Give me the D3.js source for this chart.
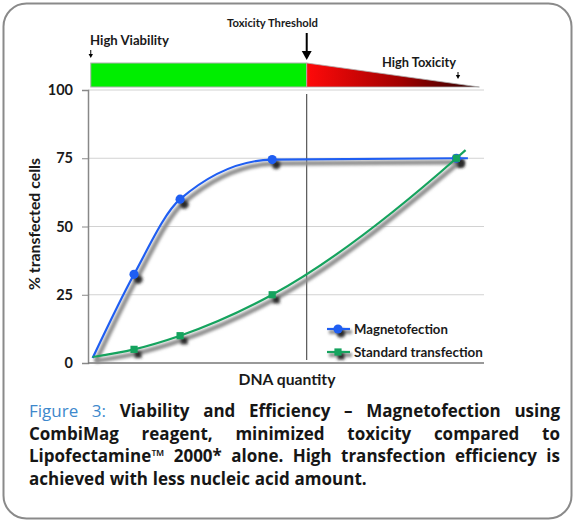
<!DOCTYPE html>
<html><head><meta charset="utf-8">
<script src="https://cdn.jsdelivr.net/npm/d3@7"></script>
<style>body{margin:0;background:#fff}svg{display:block}</style>
</head><body>
<script>
// ---- data ----
const dnaX = [0.1, 1, 2, 4, 8, 8.25];
const magnetofection = [1.8, 32.5, 60, 74.5, 75, 75];
const standardX = [0.1, 1, 2, 4, 8, 8.2];
const standard = [2.2, 5, 10, 25, 75, 78];
const markerIdx = [1, 2, 3, 4];
const yTicks = [0, 25, 50, 75, 100];
const thresholdX = 4.75;
const viabilityStart = 0.06;
const toxicityEnd = 8.5;
const seriesNames = ["Magnetofection", "Standard transfection"];
const captionLines = [
  [{t:"Figure 3:", c:"fig"}, {t:"Viability and Efficiency – Magnetofection using"}],
  [{t:"CombiMag reagent, minimized toxicity compared to"}],
  [{t:"Lipofectamine™ 2000* alone. High transfection efficiency is"}],
  [{t:"achieved with less nucleic acid amount."}]
];

const W = 575, H = 523;
const svg = d3.select("body").append("svg").attr("width", W).attr("height", H);
const defs = svg.append("defs");
defs.append("filter").attr("id","blur").attr("x","-20%").attr("y","-20%").attr("width","140%").attr("height","140%")
  .append("feGaussianBlur").attr("stdDeviation", 1.4);
const grad = defs.append("linearGradient").attr("id","tox").attr("x1","0").attr("x2","1").attr("y1","0").attr("y2","0");
grad.append("stop").attr("offset","0%").attr("stop-color","#ff0a0a");
grad.append("stop").attr("offset","55%").attr("stop-color","#a00000");
grad.append("stop").attr("offset","100%").attr("stop-color","#2a0000");

// frame
svg.append("rect").attr("x",3.5).attr("y",3.5).attr("width",568).attr("height",515)
  .attr("rx",23).attr("fill","#fff").attr("stroke","#8a8a8a").attr("stroke-width",2);

const x = d3.scaleLinear().domain([0, 8.6]).range([88, 484]);
const y = d3.scaleLinear().domain([0, 100]).range([363, 90]);
const F = "Lato, 'Open Sans', sans-serif";

// gridlines
svg.append("g").selectAll("line").data(yTicks.filter(d=>d>0)).join("line")
  .attr("x1", x(0)).attr("x2", x(8.6)).attr("y1", d=>y(d)).attr("y2", d=>y(d))
  .attr("stroke","#d2d2d2").attr("stroke-width",1);

// y axis
const yAxis = svg.append("g").attr("transform",`translate(${x(0)},0)`)
  .call(d3.axisLeft(y).tickValues(yTicks).tickSize(6).tickPadding(9));
yAxis.select(".domain").attr("stroke","#888").attr("stroke-width",1.5);
yAxis.selectAll(".tick line").attr("stroke","#888");
yAxis.selectAll("text").attr("font-family",F).attr("font-weight",700).attr("font-size",14.5).attr("fill","#1a1a1a");

// x axis line
svg.append("line").attr("x1",x(0)).attr("x2",x(8.6)).attr("y1",y(0)).attr("y2",y(0))
  .attr("stroke","#777").attr("stroke-width",1.5);

// threshold line
svg.append("line").attr("x1",x(thresholdX)).attr("x2",x(thresholdX)).attr("y1",y(100)+4).attr("y2",y(0)-3)
  .attr("stroke","#333").attr("stroke-width",1);

// toxicity bar
const barTop = y(100) - 27, barBot = y(100) - 3;
svg.append("rect").attr("x",x(viabilityStart)).attr("y",barTop)
  .attr("width",x(thresholdX)-x(viabilityStart)).attr("height",barBot-barTop)
  .attr("fill","#00ee00").attr("stroke","#b0b0b0").attr("stroke-width",1);
svg.append("path").attr("d",`M${x(thresholdX)},${barTop}L${x(thresholdX)},${barBot}L${x(toxicityEnd)},${barBot}Z`)
  .attr("fill","url(#tox)").attr("stroke","#b0b0b0").attr("stroke-width",0.8);

// arrows
function arrow(cx, y1, y2, w, head) {
  svg.append("line").attr("x1",cx).attr("x2",cx).attr("y1",y1).attr("y2",y2-head*0.6)
    .attr("stroke","#000").attr("stroke-width",w);
  svg.append("path").attr("d",`M${cx-head*0.55},${y2-head}L${cx},${y2}L${cx+head*0.55},${y2-head}Z`).attr("fill","#000");
}
arrow(x(thresholdX), 33, 60, 2, 9);
arrow(x(viabilityStart), 50, 58, 1, 4);
arrow(458, 72, 79, 1, 4);

// top labels
function label(t, xx, yy, size, anchor, fitW) {
  const el = svg.append("text").attr("x",xx).attr("y",yy).text(t).attr("font-family",F).attr("font-weight",700)
    .attr("font-size",size).attr("fill","#1a1a1a").attr("text-anchor",anchor||"start");
  if (fitW) { const w = el.node().getComputedTextLength(); el.attr("font-size", size * fitW / w); }
  return el;
}
label("Toxicity Threshold", 272.5, 27, 12, "middle", 91);
label("High Viability", 90, 45, 13, "start", 79);
label("High Toxicity", 419, 67, 13, "middle", 74);

// titles
const yt = svg.append("text").attr("transform","translate(40,224) rotate(-90)").attr("text-anchor","middle")
  .text("% transfected cells").attr("font-family",F).attr("font-weight",700).attr("font-size",14).attr("fill","#1a1a1a");
{ const w = yt.node().getComputedTextLength(); const fs = Math.min(16, 14 * 132 / w); yt.attr("font-size", fs);
  const w2 = yt.node().getComputedTextLength(); yt.attr("letter-spacing", (132 - w2) / 18); }
label("DNA quantity", 287, 385, 14.5, "middle", 97);

// series
const series = [
  {xs: dnaX, ys: magnetofection, color:"#1f5ef2", shape:"circle"},
  {xs: standardX, ys: standard, color:"#15a35e", shape:"square"}
];
const line = d3.line().x(d=>x(d[0])).y(d=>y(d[1])).curve(d3.curveMonotoneX);
function marker(g, shape, cx, cy, fill) {
  if (shape === "circle") g.append("circle").attr("cx",cx).attr("cy",cy).attr("r",4.6).attr("fill",fill);
  else g.append("rect").attr("x",cx-3.6).attr("y",cy-3.6).attr("width",7.2).attr("height",7.2).attr("fill",fill);
}
// shadows first
series.forEach(s => {
  const pts = s.xs.map((v,i)=>[v, s.ys[i]]);
  const g = svg.append("g").attr("transform","translate(3,4)").attr("filter","url(#blur)");
  g.append("path").attr("d", line(pts.slice(0,5))).attr("fill","none").attr("stroke","#8c8c8c").attr("stroke-width",4.5);
  markerIdx.forEach(i => marker(g, s.shape, x(pts[i][0])+1, y(pts[i][1])+1, "#2a2a2a"));
});
series.forEach(s => {
  const pts = s.xs.map((v,i)=>[v, s.ys[i]]);
  svg.append("path").attr("d", line(pts)).attr("fill","none").attr("stroke",s.color).attr("stroke-width",2.2);
  const g = svg.append("g");
  markerIdx.forEach(i => marker(g, s.shape, x(pts[i][0]), y(pts[i][1]), s.color));
});

// legend
series.forEach((s, i) => {
  const ly = 329 + i * 23;
  const sg = svg.append("g").attr("transform","translate(2,3)").attr("filter","url(#blur)");
  sg.append("line").attr("x1",327).attr("x2",350).attr("y1",ly).attr("y2",ly).attr("stroke","#8c8c8c").attr("stroke-width",4);
  marker(sg, s.shape, 339, ly+1, "#2a2a2a");
  svg.append("line").attr("x1",327).attr("x2",350).attr("y1",ly).attr("y2",ly).attr("stroke",s.color).attr("stroke-width",2.2);
  marker(svg, s.shape, 338, ly, s.color);
  label(seriesNames[i], 354, ly + 4.5, 13, "start", i ? 129 : 94);
});

// caption (justified)
const capX0 = 29, capX1 = 560, capY0 = 417, capDy = 22.6;
const CF = "'Open Sans', 'Noto Sans', sans-serif";
captionLines.forEach((parts, li) => {
  const words = [];
  parts.forEach(p => p.t.split(" ").forEach(w => words.push({t:w, c:p.c})));
  const t = svg.append("text").attr("y", capY0 + li*capDy).attr("font-family",CF).attr("font-size",17);
  const spans = words.map(w => t.append("tspan").text(w.t)
    .attr("font-weight", w.c ? 500 : 700).attr("fill", w.c ? "#3d88cc" : "#161616"));
  const widths = spans.map(sp => sp.node().getComputedTextLength());
  const total = d3.sum(widths);
  const last = li === captionLines.length - 1;
  const gap = last ? 4.8 : (capX1 - capX0 - total) / (words.length - 1);
  let cx = capX0;
  spans.forEach((sp, i) => { sp.attr("x", cx); cx += widths[i] + gap; });
});
</script>
</body></html>
